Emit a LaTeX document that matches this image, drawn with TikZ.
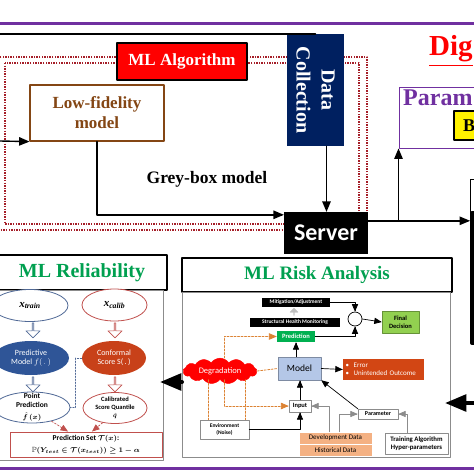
\documentclass[tikz,border=0pt]{standalone}
\usepackage{fontspec}
\setmainfont{Liberation Serif}
\setsansfont{Carlito}
\usepackage{amsmath,amssymb,bm}
\usetikzlibrary{arrows}
\usetikzlibrary{positioning}
\usetikzlibrary{shapes.geometric,shapes.symbols,shapes.arrows}
\definecolor{twinpurple}{RGB}{112,48,160}
\definecolor{framered}{RGB}{165,30,40}
\definecolor{algored}{RGB}{255,0,0}
\definecolor{dcnavy}{RGB}{0,32,96}
\definecolor{lowbrown}{RGB}{132,70,20}
\definecolor{titlegreen}{RGB}{0,160,80}
\definecolor{predblue}{RGB}{47,85,151}
\definecolor{edgeblue}{RGB}{80,105,150}
\definecolor{confred}{RGB}{200,65,25}
\definecolor{edgered}{RGB}{192,80,77}
\definecolor{panelgrey}{RGB}{140,140,140}
\definecolor{predgreen}{RGB}{0,176,80}
\definecolor{decgreen}{RGB}{146,208,80}
\definecolor{modelblue}{RGB}{180,199,231}
\definecolor{errorange}{RGB}{210,70,20}
\definecolor{degrorange}{RGB}{220,130,50}
\definecolor{datapeach}{RGB}{244,177,131}

\begin{document}
\begin{tikzpicture}[x=1pt,y=-1pt,line cap=round,line join=round,>=triangle 45,
  flow/.style={line width=1.4pt},
  thinflow/.style={line width=0.7pt},
  greyflow/.style={line width=0.7pt,draw=panelgrey},
  orgdash/.style={line width=0.8pt,draw=degrorange,dash pattern=on 2pt off 1.5pt},
  dotframe/.style={draw=framered,line width=1.6pt,line cap=butt,dash pattern=on 1.4pt off 1.2pt},
  bigarrow/.style={line width=4pt,->},
  tbox/.style={rectangle,inner sep=0pt,align=center},
  titlebox/.style={tbox,draw=black,line width=1.6pt,fill=white,text=titlegreen,font=\fontsize{20}{24}\selectfont\bfseries},
  panel/.style={tbox,draw=panelgrey,line width=0.8pt},
  oval/.style={shape=ellipse,inner sep=0pt,align=center},
  blueedge/.style={oval,draw=edgeblue,line width=0.8pt,fill=white},
  rededge/.style={oval,draw=edgered,line width=0.8pt,fill=white},
  bluefill/.style={oval,fill=predblue,text=white},
  redfill/.style={oval,fill=confred,text=white},
  hollowdown/.style={shape=single arrow,fill=white,line width=0.7pt,shape border rotate=270,minimum height=15pt,minimum width=14pt,single arrow head extend=3pt,inner sep=0pt},
  blackbar/.style={tbox,fill=black,text=white,font=\sffamily\bfseries\fontsize{5.5}{6}\selectfont},
  greybox/.style={tbox,draw=panelgrey,fill=white,line width=0.5pt},
  databar/.style={tbox,fill=datapeach,draw=white,line width=0.5pt,font=\sffamily\fontsize{7}{8}\selectfont,minimum width=73pt,minimum height=12pt}]
\clip (0,0) rectangle (474,474);
\useasboundingbox (0,0) rectangle (474,474);

\draw[twinpurple,line width=3pt] (0,23) -- (474,23);
\draw[twinpurple,line width=3pt] (0,468) -- (474,468);

\draw[dotframe] (-3,57) rectangle (367,230);
\draw[dotframe] (5,63) rectangle (359,224);

\node[tbox,fill=algored,draw=black,line width=1.5pt,minimum width=130pt,minimum height=37pt,text=white,font=\fontsize{17}{20}\selectfont\bfseries] (mlalgo) at (182,61.5) {ML Algorithm};
\node[tbox,fill=dcnavy,minimum width=57pt,minimum height=112pt] (datacol) at (315.5,90) {};
\node[rotate=-90,align=center,text=white,font=\fontsize{20}{25}\selectfont\bfseries] (datatext) at (datacol.center) {Data\\Collection};
\coordinate (dcfeed) at (0,34);
\draw[flow] (dcfeed) -- (dcfeed -| datacol.north);

\node[tbox,draw=lowbrown,line width=1.2pt,fill=white,minimum width=134pt,minimum height=56pt,text=lowbrown,font=\fontsize{17}{20}\selectfont\bfseries] (lowfid) at (97,113) {Low-fidelity\\model};
\coordinate (lfin) at (0,141);
\draw[flow,->] (lfin) -- (lowfid.south west);
\node[font=\fontsize{17.5}{20}\selectfont\bfseries] (greylbl) at (207,179) {Grey-box model};

\node[tbox,fill=black,minimum width=84pt,minimum height=42pt,text=white,font=\sffamily\bfseries\fontsize{24}{28}\selectfont] (server) at (326,233) {Server};
\draw[flow,->] (lowfid.south) |- ([yshift=-3pt]server.north west);
\draw[flow,->] ([xshift=11pt]datacol.south) -- ([xshift=11pt]datacol.south |- server.north);

\node[tbox,draw=black,line width=0.8pt,fill=white,minimum width=20pt,minimum height=34pt] (twintop) at (480,196) {};
\node[tbox,draw=black,line width=3.5pt,minimum width=20pt,minimum height=130pt] (twinbody) at (481.75,278) {};
\coordinate (srvout) at ([yshift=-9pt]server.north east);
\draw[flow,->] (srvout) -- (srvout -| twinbody.west);

\node[tbox,draw=twinpurple,line width=1pt,minimum width=82pt,minimum height=61pt] (param) at (440,117.5) {};
\node[anchor=base west,inner sep=0pt,text=twinpurple,font=\fontsize{24}{28}\selectfont\bfseries] (paramtxt) at (403,105) {Param};
\node[tbox,draw=black,line width=1.5pt,fill=yellow,minimum width=40pt,minimum height=29pt] (bbox) at (474,125.5) {};
\node[anchor=west,inner sep=0pt,font=\fontsize{18}{20}\selectfont\bfseries] (btxt) at (463,126) {B};
\draw[flow,->] (srvout -| param.south west) -- (param.south west);
\node[anchor=base west,inner sep=0pt,text=algored,font=\fontsize{29}{32}\selectfont\bfseries] (dtitle) at (429,55) {\underline{Dig}};

\node[titlebox,minimum width=170pt,minimum height=35pt] (reltitle) at (82,272.5) {ML Reliability};
\node[panel,minimum width=164pt,minimum height=170pt] (relpanel) at (81,375) {};
\node[blueedge,minimum width=76pt,minimum height=32pt,font=\fontsize{11}{13}\selectfont\bfseries\itshape] (xtrain) at (30,305.5) {x\textsubscript{train}};
\node[rededge,minimum width=65pt,minimum height=32pt,font=\fontsize{11}{13}\selectfont\bfseries\itshape] (xcalib) at (114.5,305) {x\textsubscript{calib}};
\node[hollowdown,draw=edgeblue] (arrxp) at (33,330) {};
\node[hollowdown,draw=edgered] (arrxc) at (115,330) {};
\node[bluefill,minimum width=76pt,minimum height=34pt,font=\sffamily\fontsize{8}{9.5}\selectfont] (predmod) at (31,358) {Predictive\\Model $f(\,.\,)$};
\node[redfill,minimum width=64pt,minimum height=34pt,font=\sffamily\fontsize{8}{9.5}\selectfont] (confsc) at (114,358) {Conformal\\Score S(\,.\,)};
\node[hollowdown,draw=edgeblue] (arrpp) at (33,384) {};
\node[hollowdown,draw=edgered] (arrcq) at (115,384) {};
\node[blueedge,minimum width=76pt,minimum height=31pt,inner sep=-6pt,font=\sffamily\bfseries\fontsize{7.5}{9}\selectfont] (pointp) at (32,407.5) {Point\\Prediction\\[3pt]$\bm{\hat{f}\,(x)}$};
\node[rededge,minimum width=64pt,minimum height=31pt,inner sep=-4pt,font=\sffamily\bfseries\fontsize{6.5}{8}\selectfont] (calq) at (115,408) {Calibrated\\Score Quantile\\$\bm{\hat{q}}$};
\draw[line width=0.7pt,draw=edgeblue,dash pattern=on 1.5pt off 1.5pt] (confsc.west) -- ++(-6,0) |- (pointp.east);
\node[tbox,draw=edgered,line width=1pt,fill=white,minimum width=152pt,minimum height=25pt,font=\sffamily\bfseries\fontsize{7.5}{11.5}\selectfont] (predset) at (86,444.5) {Prediction Set $\bm{\mathcal{T}(x)}$:\\ $\bm{\mathbb{P}(Y_{test}\in\mathcal{T}(x_{test}))\geq 1-\alpha}$};
\draw[line width=0.7pt,draw=edgered,dash pattern=on 2pt off 1.5pt,->] (pointp.-35) -- ([xshift=-18pt]predset.north);
\draw[line width=0.7pt,draw=edgered,dash pattern=on 2pt off 1.5pt,->] (calq.-130) -- ([xshift=6pt]predset.north);

\node[titlebox,minimum width=270pt,minimum height=34pt,font=\fontsize{19}{23}\selectfont\bfseries] (risktitle) at (317,275) {ML Risk Analysis};
\node[panel,minimum width=268pt,minimum height=165pt] (riskpanel) at (316,374.5) {};
\node[blackbar,minimum width=68pt,minimum height=9pt] (mitig) at (296,302.5) {Mitigation/Adjustment};
\node[blackbar,minimum width=90pt,minimum height=9pt] (shm) at (295,322.5) {Structural Health Monitoring};
\node[shape=single arrow,fill=black!25,draw=black!25,shape border rotate=90,minimum height=7pt,minimum width=8pt,single arrow head extend=1.5pt,inner sep=0pt] (shmup) at (294,312) {};
\node[tbox,fill=predgreen,text=white,font=\sffamily\bfseries\fontsize{6.5}{7}\selectfont,minimum width=38pt,minimum height=11pt] (predn) at (296,336.5) {Prediction};
\node[circle,draw=black,line width=0.7pt,fill=white,minimum size=14pt,inner sep=0pt] (sumc) at (355,319) {};
\draw[thinflow,->] (mitig.east) -| (sumc.north);
\draw[thinflow,->] (predn.east) -| (sumc.south);
\node[tbox,fill=decgreen,draw=decgreen!70!black,line width=0.5pt,font=\sffamily\bfseries\fontsize{6.5}{8}\selectfont,minimum width=37pt,minimum height=22pt] (final) at (400.5,322) {Final\\Decision};
\draw[thinflow,->] (sumc.east) -- (final.west);
\node[tbox,fill=modelblue,draw=modelblue!70!black,line width=0.5pt,font=\sffamily\fontsize{9.5}{11}\selectfont,minimum width=43pt,minimum height=23pt] (model) at (299.5,368.5) {Model};
\draw[thinflow,->] (model.north -| predn.south) -- (predn.south);
\node[tbox,fill=errorange,text=white,align=left,text width=76pt,font=\sffamily\fontsize{7}{8.5}\selectfont,minimum width=81pt,minimum height=21pt] (err) at (383.5,369.5) {\textbullet\ \ Error\\\textbullet\ \ Unintended Outcome};
\draw[thinflow,->] (model.east) -- (err.west);
\node[shape=cloud,cloud puffs=13,cloud puff arc=110,aspect=3.2,fill=red,draw=red,text=white,font=\sffamily\fontsize{8.5}{10}\selectfont,minimum width=74pt,minimum height=22pt,inner sep=0pt] (degr) at (220,371) {Degradation};
\node[greybox,font=\sffamily\bfseries\fontsize{6.5}{7}\selectfont,minimum width=22pt,minimum height=12pt] (input) at (300,406) {Input};
\node[greybox,font=\sffamily\bfseries\fontsize{5.5}{6.5}\selectfont,minimum width=49pt,minimum height=19pt] (env) at (224.5,429.5) {Environment\\(Noise)};
\node[databar] (devdata) at (335.5,438) {Development Data};
\node[databar] (histdata) at (335.5,450) {Historical Data};
\node[greybox,font=\sffamily\bfseries\fontsize{6}{7}\selectfont,minimum width=40pt,minimum height=10pt] (paramn) at (378,414) {Parameter};
\node[greybox,font=\sffamily\bfseries\fontsize{6.8}{8.5}\selectfont,minimum width=63pt,minimum height=21pt] (train) at (416.5,443.5) {Training Algorithm\\Hyper-parameters};

\draw[orgdash,->] ([xshift=4pt]degr.north) |- (predn.west);
\draw[orgdash] (degr.east) -- (model.west);
\draw[orgdash,->] ([xshift=4pt]degr.south) |- (input.west);
\draw[orgdash] ([xshift=-12pt]degr.south) -- ([xshift=-12pt]degr.south |- env.north);
\draw[orgdash] ([xshift=25pt]degr.south) -- ([xshift=25pt]degr.south |- env.north);
\draw[thinflow,->] (input.north) -- (input.north |- model.south);
\draw[thinflow,->] (env.east) -| (input.south);
\draw[greyflow,->] ([xshift=-6.5pt]devdata.north) |- (input.east);
\draw[greyflow,->] ([xshift=3.5pt]devdata.north) |- (paramn.west);
\draw[greyflow,->] ([xshift=-9.5pt]train.north) |- (paramn.east);
\draw[thinflow,->] (paramn.north west) -- (model.south east);

\coordinate (twinfeed) at (474,403);
\draw[bigarrow] (twinfeed) -- ([xshift=-5pt]twinfeed -| riskpanel.east);
\coordinate (relfeed) at (182,382);
\draw[bigarrow] (relfeed) -- ([xshift=-3pt]relfeed -| relpanel.east);
\end{tikzpicture}
\end{document}
